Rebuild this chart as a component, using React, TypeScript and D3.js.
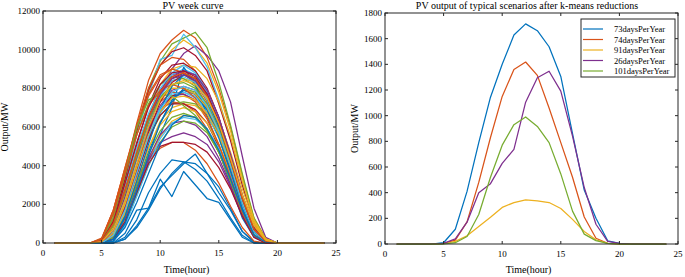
import React from "react";
import * as d3 from "d3";

// ---------- data ----------
const hours = d3.range(1, 25); // 1..24
const weekStartHour = 4; // weekCurves hold hours 4..20, other hours are 0
const weekCurves: number[][] = [
  [0,0,0,200,900,1800,3300,2400,3700,3000,2300,2100,1200,300,0,0,0],
  [0,150,1500,3700,6200,8400,9800,10500,11000,10600,9600,8000,6000,3500,1200,200,0],
  [0,80,1100,3200,5600,7800,9200,10000,10500,10100,9300,7800,5800,3400,1300,250,0],
  [0,0,400,1600,3600,5800,7700,9000,9800,10200,9700,8900,7300,4500,1800,300,0],
  [0,120,1300,3400,5800,8000,9400,10300,10600,10900,10100,8300,6100,3600,1300,200,0],
  [0,80,1000,3000,5600,7600,9500,9700,10800,10100,9100,7400,5400,3100,1000,150,0],
  [0,120,1200,3300,5800,7900,9200,9900,10100,9700,8900,7200,5300,3000,1000,150,0],
  [0,0,0,300,1200,2600,3600,4300,4200,4100,3600,2900,1800,600,50,0,0],
  [0,200,1700,3900,6100,8000,9200,9600,9500,8900,7800,6200,4300,2300,700,100,0],
  [0,0,600,2300,4400,6500,8200,9000,9200,9100,8500,7300,5500,3200,1200,200,0],
  [0,60,700,2400,4500,6500,7900,8700,8900,8700,7900,6500,4600,2500,800,100,0],
  [0,120,1100,3000,4900,6600,7600,8000,8000,7800,7000,5800,4100,2200,700,100,0],
  [0,0,500,2000,4000,6100,7700,8700,9000,8700,7800,6300,4400,2300,700,100,0],
  [0,100,1000,2900,5100,7100,8500,9200,9300,8900,8000,6500,4500,2400,800,100,0],
  [0,0,0,200,800,1700,2800,3600,4200,3800,3200,2300,1300,400,0,0,0],
  [0,250,1700,3800,5900,7700,8700,9000,8800,8200,7100,5500,3600,1700,400,50,0],
  [0,0,700,2500,4500,6400,7800,8400,8500,8300,7600,6400,4700,2800,1100,200,0],
  [0,0,500,2000,4000,5800,7100,7900,8100,7900,7200,6000,4300,2400,800,100,0],
  [0,200,1500,3500,5600,7200,8200,8600,8500,8100,7100,5600,3800,1900,500,50,0],
  [0,0,400,1700,3500,5300,6700,7500,7800,7600,6800,5600,4000,2200,700,100,0],
  [0,60,800,2600,4600,6500,7800,8500,8800,8500,7600,6200,4300,2300,700,100,0],
  [0,0,0,500,1700,1800,2900,3500,4100,4600,3600,2600,1700,600,50,0,0],
  [0,100,1200,3000,4900,6300,7300,7800,7700,7300,6400,5100,3500,1700,400,50,0],
  [0,0,300,1500,3200,4900,6300,7000,7200,7100,6600,5600,4200,2500,1000,200,0],
  [0,60,900,2600,4400,5900,7000,7600,7700,7400,6700,5500,3800,2000,600,80,0],
  [0,0,500,2000,3800,5400,6600,7200,7300,7200,6600,5500,4000,2300,800,150,0],
  [0,100,1000,2900,4900,6700,8000,8800,9200,8800,7900,6400,4500,2400,700,100,0],
  [0,0,400,1800,3500,5300,6800,7600,7900,7700,7000,5800,4100,2200,700,100,0],
  [0,0,100,1000,2500,4200,5600,7000,9100,8200,6600,4800,3000,1300,300,0,0],
  [0,100,1100,2800,4600,6000,6900,7300,7200,6800,5900,4700,3200,1500,400,50,0],
  [0,0,200,1200,2800,4300,5500,6300,6600,6500,5900,4900,3500,1900,600,100,0],
  [0,0,300,1300,2900,4400,5600,6200,6300,6100,5500,4400,3000,1500,400,50,0],
  [0,0,200,1000,2500,4000,5200,6000,6300,6200,5700,4700,3300,1800,600,100,0],
  [0,0,500,2000,3900,5700,7000,7700,7800,7500,6700,5400,3700,1900,500,50,0],
  [0,100,800,2300,4000,5500,6600,7200,7200,6900,6200,5000,3400,1700,400,50,0],
  [0,0,200,1300,3000,4700,6200,7300,8000,7700,6900,5500,3700,1800,400,50,0],
  [0,100,900,2200,3400,4300,4900,5200,5200,4800,4100,3100,1900,800,100,0,0],
  [0,0,400,1600,3300,4900,6100,6800,7000,6800,6200,5100,3600,1900,600,100,0],
  [0,0,200,1100,2700,4300,5200,5500,5700,5500,5100,4200,2900,1400,300,0,0],
  [0,0,300,1400,3000,4600,5800,6500,6700,6500,5800,4700,3200,1600,400,50,0],
  [0,0,100,900,2400,4000,5400,6200,6500,6400,5900,4900,3500,1900,600,100,0],
  [0,0,200,1100,2600,4100,5000,5200,5200,5100,4700,3900,2800,1400,300,0,0],
  [0,0,100,1000,2700,4500,6200,7400,7900,7700,6900,5500,3700,1800,400,50,0],
  [0,200,1700,3900,6000,7600,8600,9000,8800,8300,7300,5900,4000,2100,600,80,0],
  [0,60,800,2500,4400,6200,7400,8000,8000,7700,7000,5800,4100,2300,800,150,0],
  [0,0,500,2000,4000,6000,7600,8600,8900,8700,7900,6500,4600,2500,800,100,0],
  [0,100,1300,3600,6000,7400,7700,7600,7100,6600,5800,4700,3200,1600,400,50,0],
  [0,0,600,2300,4300,6200,7600,8400,8600,8300,7400,6000,4200,2200,600,80,0],
  [0,0,500,1900,3800,5700,7300,8300,8700,8500,7700,6300,4400,2400,800,100,0],
  [0,0,200,1400,3200,5100,6900,8100,8700,8400,7500,6000,4100,2100,600,80,0],
  [0,200,1500,3600,5600,7100,7900,8200,8000,7500,6500,5100,3400,1600,400,50,0],
  [0,0,500,2000,3900,5600,6800,7500,7600,7400,6700,5600,4000,2200,700,100,0],
  [0,0,700,2400,4400,6300,7700,8500,8700,8400,7600,6200,4300,2300,700,100,0],
  [0,60,900,2600,4500,6300,7500,8200,8300,8000,7200,5900,4100,2200,700,100,0],
  [0,0,400,1700,3600,5500,6900,7800,8100,7900,7100,5800,4000,2100,600,80,0],
  [0,100,1100,3100,5200,7000,8200,8800,8900,8600,7700,6200,4300,2300,700,100,0],
  [0,0,100,800,2100,3600,5100,6100,6600,6500,5900,4800,3300,1700,400,50,0],
  [0,100,1000,2700,4700,6500,7800,8600,8800,8500,7600,6200,4300,2300,700,100,0],
  [0,60,700,2200,4100,6000,7400,8200,8400,8200,7500,6200,4400,2500,900,150,0],
];

const scenarioNames = ["73daysPerYear", "74daysPerYear", "91daysPerYear", "26daysPerYear", "101daysPerYear"];
const s73 = [0,0,0,0,10,115,410,790,1144,1400,1628,1715,1662,1537,1306,860,420,200,25,5,0,0,0,0];
const s74 = [0,0,0,0,5,30,172,480,830,1150,1360,1418,1314,1060,790,520,210,45,5,0,0,0,0,0];
const s91 = [0,0,0,0,2,20,64,136,208,285,323,344,336,323,277,192,97,33,5,0,0,0,0,0];
const s26 = [0,0,0,0,5,40,170,400,470,628,738,1105,1296,1346,1191,840,440,154,20,5,0,0,0,0];
const s101 = [0,0,0,0,0,10,59,230,520,770,930,990,916,790,546,256,77,26,5,0,0,0,0,0];
const scenarioSeries = [s73, s74, s91, s26, s101];

const matlabColors = ["#0072BD", "#D95319", "#EDB120", "#7E2F8E", "#77AC30", "#4DBEEE", "#A2142F"];
const xTicks = [0, 5, 10, 15, 20, 25];
const leftYTicks = [0, 2000, 4000, 6000, 8000, 10000, 12000];
const rightYTicks = [0, 200, 400, 600, 800, 1000, 1200, 1400, 1600, 1800];

const FONT = "'Liberation Serif', 'Times New Roman', serif";
const AX = "#262626";

type PanelProps = {
  x0: number; x1: number; y0: number; y1: number;
  yMax: number; yTicks: number[]; title: string; titleX: number;
  series: { values: number[]; color: string }[];
  yLabelX: number;
  children?: React.ReactNode;
};

function Panel(p: PanelProps) {
  const x = d3.scaleLinear().domain([0, 25]).range([p.x0, p.x1]);
  const y = d3.scaleLinear().domain([0, p.yMax]).range([p.y1, p.y0]);
  const line = d3.line<number>().x((_, i) => x(hours[i])).y((v) => y(v));
  const tl = 3;
  return (
    <g>
      <rect x={p.x0} y={p.y0} width={p.x1 - p.x0} height={p.y1 - p.y0} fill="#fff" />
      {p.series.map((s, i) => (
        <path key={i} d={line(s.values) || ""} fill="none" stroke={s.color} strokeWidth={1.25} strokeLinejoin="round" />
      ))}
      <rect x={p.x0} y={p.y0} width={p.x1 - p.x0} height={p.y1 - p.y0} fill="none" stroke={AX} strokeWidth={1} />
      {xTicks.map((t) => (
        <g key={"x" + t}>
          <line x1={x(t)} x2={x(t)} y1={p.y1} y2={p.y1 - tl} stroke={AX} />
          <line x1={x(t)} x2={x(t)} y1={p.y0} y2={p.y0 + tl} stroke={AX} />
          <text x={x(t)} y={p.y1 + 13} textAnchor="middle" fontFamily={FONT} fontSize={9} fill="#000">{t}</text>
        </g>
      ))}
      {p.yTicks.map((t) => (
        <g key={"y" + t}>
          <line x1={p.x0} x2={p.x0 + tl} y1={y(t)} y2={y(t)} stroke={AX} />
          <line x1={p.x1} x2={p.x1 - tl} y1={y(t)} y2={y(t)} stroke={AX} />
          <text x={p.x0 - 3} y={y(t) + 3} textAnchor="end" fontFamily={FONT} fontSize={9} fill="#000">{t}</text>
        </g>
      ))}
      <text x={p.titleX} y={9} textAnchor="middle" fontFamily={FONT} fontSize={10} fill="#000">{p.title}</text>
      <text x={(p.x0 + p.x1) / 2 - 3} y={273} textAnchor="middle" fontFamily={FONT} fontSize={10} fill="#000">Time(hour)</text>
      <text transform={`translate(${p.yLabelX},${(p.y0 + p.y1) / 2}) rotate(-90)`} textAnchor="middle" fontFamily={FONT} fontSize={10} fill="#000">Output/MW</text>
      {p.children}
    </g>
  );
}

export default function App() {
  const leftSeries = weekCurves.map((c, i) => {
    const full = hours.map((h) => {
      const k = h - weekStartHour;
      return k >= 0 && k < c.length ? c[k] : 0;
    });
    return { values: full, color: matlabColors[i % 7] };
  });
  const rightSeries = scenarioSeries.map((v, i) => ({ values: v, color: matlabColors[i] }));
  const lx = 581, ly = 19, lw = 94, lh = 58;
  return (
    <svg width={685} height={277} style={{ display: "block", position: "absolute", left: 0, top: 0 }}>
      <rect width={685} height={277} fill="#fff" />
      <Panel x0={43} x1={336} y0={11} y1={243} yMax={12000} yTicks={leftYTicks}
        title="PV week curve" titleX={193} series={leftSeries} yLabelX={7.5} />
      <Panel x0={385} x1={678} y0={13} y1={244} yMax={1800} yTicks={rightYTicks}
        title="PV output of typical scenarios after k-means reductions" titleX={527} series={rightSeries} yLabelX={358}>
        <g>
          <rect x={lx} y={ly} width={lw} height={lh} fill="#fff" stroke={AX} strokeWidth={1} />
          {scenarioNames.map((n, i) => (
            <g key={n}>
              <line x1={lx + 2} x2={lx + 22} y1={ly + 10 + i * 10.5} y2={ly + 10 + i * 10.5} stroke={matlabColors[i]} strokeWidth={1.2} />
              <text x={lx + 33} y={ly + 13 + i * 10.5} fontFamily={FONT} fontSize={8.5} fill="#000">{n}</text>
            </g>
          ))}
        </g>
      </Panel>
    </svg>
  );
}
